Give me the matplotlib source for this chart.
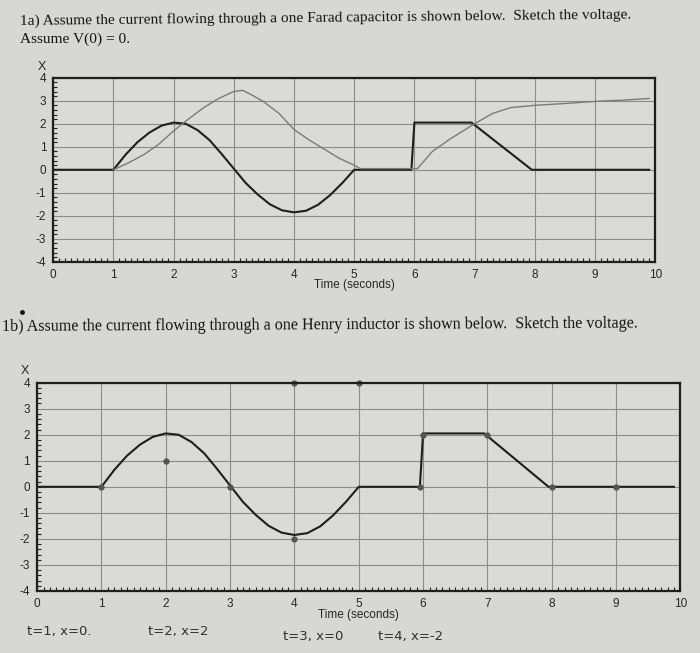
import matplotlib.pyplot as plt
from matplotlib.lines import Line2D
from matplotlib.ticker import MultipleLocator

plt.rcParams['axes.unicode_minus'] = False
plt.rcParams['font.family'] = ['Liberation Sans', 'DejaVu Sans']

# current through the element (black trace, same in both plots)
current_t = [0.0, 1.0, 1.2, 1.4, 1.6, 1.8, 2.0, 2.2, 2.4, 2.6, 2.8, 3.0,
             3.2, 3.4, 3.6, 3.8, 4.0, 4.2, 4.4, 4.6, 4.8, 5.0,
             5.95, 6.0, 6.95, 7.95, 9.9]
current_x = [0.0, 0.0, 0.65, 1.2, 1.62, 1.92, 2.05, 2.0, 1.72, 1.28, 0.68, 0.05,
             -0.58, -1.08, -1.5, -1.76, -1.85, -1.78, -1.52, -1.1, -0.58, 0.0,
             0.0, 2.05, 2.05, 0.0, 0.0]

# hand sketched voltage in 1a (grey trace)
volt_t = [1.0, 1.25, 1.5, 1.75, 2.0, 2.17, 2.5, 2.75, 3.0, 3.15, 3.3, 3.5,
          3.75, 4.0, 4.25, 4.5, 4.75, 5.0, 5.1, 5.95, 6.05, 6.3, 6.6, 7.0,
          7.3, 7.6, 8.0, 8.5, 9.0, 9.5, 9.9]
volt_x = [0.0, 0.3, 0.65, 1.1, 1.69, 2.05, 2.7, 3.1, 3.4, 3.45, 3.25, 2.95,
          2.45, 1.75, 1.3, 0.9, 0.5, 0.2, 0.05, 0.05, 0.05, 0.8, 1.35, 2.0,
          2.45, 2.7, 2.8, 2.88, 2.97, 3.03, 3.1]

# dots marked on the 1b plot
dot_t = [1, 2, 3, 4, 4, 5, 5.95, 6, 7, 8, 9]
dot_x = [0, 1, 0, -2, 4, 4, 0, 2, 2, 0, 0]

# handwritten notes under 1b
notes = ['t=1, x=0.', 't=2, x=2', 't=3, x=0', 't=4, x=-2']
note_t = [-0.15, 1.72, 3.82, 5.3]
note_y = [-5.55, -5.55, -5.75, -5.75]

xticks = list(range(0, 11))
yticks = list(range(-4, 5))

paper = '#d7d7d4'
ink = '#1e1e1e'

fig = plt.figure(figsize=(7, 6.53), dpi=100, facecolor=paper)


def setup(ax):
    ax.set_facecolor('#dadad7')
    ax.set_xlim(0, 10)
    ax.set_ylim(-4, 4)
    ax.set_xticks(xticks)
    ax.set_yticks(yticks)
    ax.xaxis.set_minor_locator(MultipleLocator(0.1))
    ax.yaxis.set_minor_locator(MultipleLocator(0.2))
    ax.tick_params(which='major', direction='in', length=0, labelsize=8.5,
                   pad=5, colors='#262626')
    ax.tick_params(which='minor', direction='in', length=3, width=0.8,
                   color=ink)
    ax.grid(True, which='major', color='#8c8c8c', linewidth=0.8)
    for s in ax.spines.values():
        s.set_color(ink)
        s.set_linewidth(1.6)
    ax.set_xlabel('Time (seconds)', fontsize=8.5, labelpad=-1, color='#262626')
    ax.text(-0.012, 1.025, 'X', transform=ax.transAxes, fontsize=9,
            ha='right', va='bottom', color='#262626')


serif = ['Liberation Serif', 'DejaVu Serif']
fig.text(0.028, 0.972, '1a) Assume the current flowing through a one Farad capacitor '
         'is shown below.  Sketch the voltage.', family=serif, fontsize=11.1,
         va='center', rotation=0.6, color='#151515')
fig.text(0.028, 0.94, 'Assume V(0) = 0.', family=serif, fontsize=11.1,
         va='center', color='#151515')
fig.text(0.003, 0.502, '1b) Assume the current flowing through a one Henry inductor '
         'is shown below.  Sketch the voltage.', family=serif, fontsize=11.6,
         va='center', rotation=0.3, color='#151515')
# stray pen dot above 1b
fig.add_artist(Line2D([0.031], [0.522], marker='o', markersize=2.5,
                      color='#151515', transform=fig.transFigure))

ax1 = fig.add_axes([0.076, 0.599, 0.86, 0.282])
setup(ax1)
ax1.plot(current_t, current_x, color=ink, linewidth=1.5)
ax1.plot(volt_t, volt_x, color='#7a7a7a', linewidth=1.0)

ax2 = fig.add_axes([0.053, 0.095, 0.919, 0.319])
setup(ax2)
ax2.plot(current_t, current_x, color=ink, linewidth=1.5)
ax2.plot(dot_t, dot_x, 'o', color='#555555', markersize=3.5, clip_on=False)

for t, y, s in zip(note_t, note_y, notes):
    ax2.text(t, y, s, fontsize=9.5, color='#303030', ha='left', va='center',
             family='DejaVu Sans')

plt.savefig('out.png', dpi=100, facecolor=paper)
